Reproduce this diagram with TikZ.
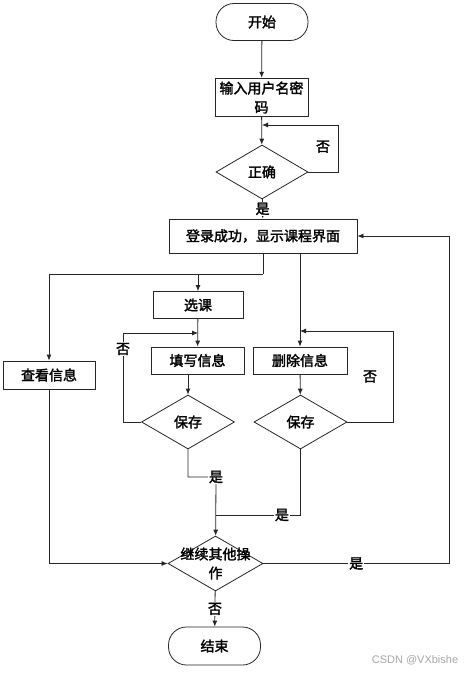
\documentclass[tikz,border=0pt]{standalone}
\usepackage{fontspec}
\setmainfont{Liberation Serif}
\newfontfamily\cjk[FakeBold=2]{Noto Sans CJK SC}
\newfontfamily\marksans{Liberation Sans}
\usetikzlibrary{shapes.geometric,arrows.meta}

\begin{document}
\begin{tikzpicture}[x=1pt,y=-1pt,line width=0.8pt,draw=black!85,
  every node/.style={font=\cjk\fontsize{14}{19}\selectfont},
  term/.style={draw,rounded corners=18pt,minimum width=92pt,minimum height=37pt},
  box/.style={draw,minimum height=27pt,align=center},
  ask/.style={draw,diamond,inner sep=0pt,minimum width=93pt,minimum height=54pt,align=center},
  arr/.style={-{Latex[length=6pt,width=5pt]}},
  lbl/.style={fill=white,inner sep=1pt}]
\useasboundingbox (0,0) rectangle (474,673);

\node[term] (start) at (262,22) {开始};
\node[box,minimum width=93pt,minimum height=37pt] (input) at (261.5,97.5) {输入用户名密\\码};
\node[ask,minimum width=92pt] (ok) at (262,172) {正确};
\node[box,minimum width=188pt,minimum height=34pt] (login) at (263,236) {登录成功，显示课程界面};
\node[box,minimum width=90pt] (choose) at (198,305) {选课};
\node[box,minimum width=93pt] (fill) at (197.5,360.5) {填写信息};
\node[box,minimum width=94pt] (del) at (300,360.5) {删除信息};
\node[box,minimum width=92pt,minimum height=28pt] (view) at (49,375) {查看信息};
\node[ask] (save1) at (188,422) {保存};
\node[ask] (save2) at (300.5,422) {保存};
\node[ask,minimum width=95pt,minimum height=55pt] (cont) at (215.5,563.5)
  {\makebox[0pt]{继续其他操}\\\makebox[0pt]{作}};
\node[term,minimum height=38pt] (end) at (214.5,646) {结束};
\node[text=black!35,font=\marksans\fontsize{11}{13}\selectfont] (mark) at (415,660) {CSDN @VXbishe};

\coordinate (okloop) at (338,125);
\coordinate (split) at (263,274);
\coordinate (loopA) at (123,333);
\coordinate (loopB) at (393,331);
\coordinate (joinA) at (216,477);
\coordinate (joinB) at (216,515);
\coordinate (back) at (449,400);

\draw[arr] (start) -- (input);
\draw[arr] (input) -- (ok);
\draw[arr] (ok.east) -| node[pos=0.77,xshift=-15pt]{否} (okloop) -- (ok.north |- okloop);
\draw[arr] (ok) -- node[lbl]{是} (login);

\draw (login.south -| split) -- (split);
\draw[arr] (split) -| (view);
\draw[arr] (choose.north |- split) -- (choose);
\draw[arr] (login.south -| del) -- (del);
\draw[arr] (choose) -- (fill);
\draw[arr] (fill.south -| save1) -- (save1);
\draw[arr] (save1.west) -| node[lbl,pos=0.91]{否} (loopA) -- (choose.south |- loopA);
\draw[arr] (del) -- (save2);
\draw[arr] (save2.east) -| node[pos=0.75,xshift=-23pt]{否} (loopB) -- (del.north |- loopB);

\draw[arr] (save1) |- node[lbl,pos=1]{是} (joinA) -- (cont);
\draw (save2) |- node[lbl,pos=0.61]{是} (joinB);
\draw[arr] (view) |- (cont);
\draw[arr] (cont.east) -- node[lbl]{是} (cont.east -| back) |- (login);
\draw[arr] (cont) -- node[lbl]{否} (end);
\end{tikzpicture}
\end{document}
